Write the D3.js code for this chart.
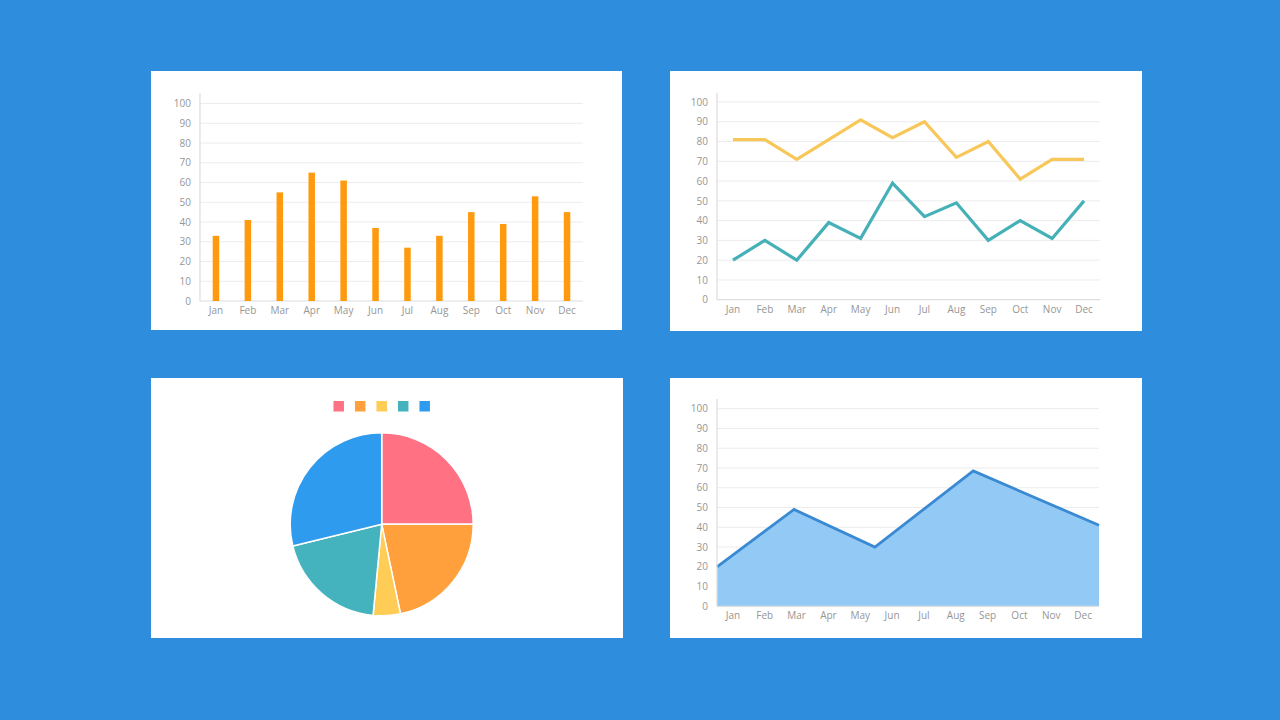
<!DOCTYPE html>
<html>
<head>
<meta charset="utf-8">
<script src="https://cdn.jsdelivr.net/npm/d3@7"></script>
<style>
html,body{margin:0;padding:0;background:#2E8EDD;}
svg{display:block;}
.tick text{font-family:"Open Sans","Noto Sans",sans-serif;font-size:10px;fill:#969696;}
</style>
</head>
<body>
<svg id="c" width="1280" height="720"></svg>
<script>
// ---- data ----
const months = ["Jan","Feb","Mar","Apr","May","Jun","Jul","Aug","Sep","Oct","Nov","Dec"];
const yTicks = [0,10,20,30,40,50,60,70,80,90,100];
const barValues = [33,41,55,65,61,37,27,33,45,39,53,45];
const lineYellow = [81,81,71,81,91,82,90,72,80,61,71,71];
const lineTeal = [20,30,20,39,31,59,42,49,30,40,31,50];
const pieValues = [25,21.7,4.8,19.7,28.8];
const pieColors = ["#FF7183","#FFA03C","#FFCC55","#45B3BE","#2F9BEE"];
const areaX = [0,2.42,4.96,8.05,12];   // position along the 12 month slots
const areaY = [20,49,30,68.5,41];

const svg = d3.select("#c");

// panels
const panels = [
  {x:151,y:71,w:471,h:259},
  {x:670,y:71,w:472,h:260},
  {x:151,y:378,w:472,h:260},
  {x:670,y:378,w:472,h:260}
];
svg.selectAll("rect.panel").data(panels).join("rect")
  .attr("class","panel")
  .attr("x",d=>d.x).attr("y",d=>d.y).attr("width",d=>d.w).attr("height",d=>d.h)
  .attr("fill","#fff");

function frame(g, x0, x1, y0, y100, axisTop){
  const x = d3.scaleBand().domain(months).range([x0,x1]);
  const y = d3.scaleLinear().domain([0,100]).range([y0,y100]);
  g.append("g").selectAll("line").data(yTicks.filter(v=>v>0)).join("line")
    .attr("x1",x0).attr("x2",x1).attr("y1",d=>y(d)).attr("y2",d=>y(d))
    .attr("stroke","#ececec").attr("stroke-width",1);
  const ya = g.append("g").attr("transform",`translate(${x0},0)`)
    .call(d3.axisLeft(y).tickValues(yTicks).tickSize(0).tickPadding(9));
  ya.select(".domain").remove();
  const xa = g.append("g").attr("transform",`translate(0,${y0})`)
    .call(d3.axisBottom(x).tickSize(0).tickPadding(6));
  xa.select(".domain").remove();
  g.append("line").attr("x1",x0).attr("x2",x0).attr("y1",axisTop).attr("y2",y0)
    .attr("stroke","#dddddd").attr("stroke-width",1.2);
  g.append("line").attr("x1",x0).attr("x2",x1).attr("y1",y0).attr("y2",y0)
    .attr("stroke","#dddddd").attr("stroke-width",1.2);
  return {x,y};
}

// ---- bar chart ----
{
  const g = svg.append("g");
  const gb = g.append("g");
  const {x,y} = frame(g,200,583,301,103.5,93);
  const bw = 6.5;
  gb.selectAll("rect").data(barValues).join("rect")
    .attr("x",(d,i)=>x(months[i])+x.bandwidth()/2-bw/2)
    .attr("width",bw)
    .attr("y",d=>y(d)).attr("height",d=>y(0)-y(d))
    .attr("fill","#FF9A0F");
  g.node().appendChild(gb.node());
}

// ---- line chart ----
{
  const g = svg.append("g");
  const {x,y} = frame(g,717,1100,299.7,102,92.7);
  const line = d3.line().x((d,i)=>x(months[i])+x.bandwidth()/2).y(d=>y(d));
  g.append("path").datum(lineYellow).attr("d",line)
    .attr("fill","none").attr("stroke","#F8C75A").attr("stroke-width",3.2).attr("stroke-linejoin","miter");
  g.append("path").datum(lineTeal).attr("d",line)
    .attr("fill","none").attr("stroke","#46B0B9").attr("stroke-width",3.2).attr("stroke-linejoin","miter");
}

// ---- pie chart ----
{
  const cx = 381.7, cy = 524.3, r = 91.5;
  const g = svg.append("g").attr("transform",`translate(${cx},${cy})`);
  const pie = d3.pie().sort(null).value(d=>d);
  const arc = d3.arc().innerRadius(0).outerRadius(r);
  g.selectAll("path").data(pie(pieValues)).join("path")
    .attr("d",arc).attr("fill",(d,i)=>pieColors[i])
    .attr("stroke","#fff").attr("stroke-width",1.5).attr("stroke-linejoin","round");
  const lx = d3.scalePoint().domain(d3.range(pieColors.length)).range([cx-43,cx+43]);
  const s = 10.5;
  svg.append("g").selectAll("rect").data(pieColors).join("rect")
    .attr("x",(d,i)=>lx(i)-s/2).attr("y",401).attr("width",s).attr("height",s)
    .attr("fill",d=>d);
}

// ---- area chart ----
{
  const g = svg.append("g");
  const ga = g.append("g");
  const {x,y} = frame(g,717,1099,606.3,408.7,399);
  const xl = d3.scaleLinear().domain([0,12]).range([717,1099]);
  const pts = areaX.map((v,i)=>[v,areaY[i]]);
  const area = d3.area().x(d=>xl(d[0])).y0(y(0)).y1(d=>y(d[1]));
  const line = d3.line().x(d=>xl(d[0])).y(d=>y(d[1]));
  ga.append("path").datum(pts).attr("d",area).attr("fill","#93C9F5");
  ga.append("path").datum(pts).attr("d",line).attr("fill","none")
    .attr("stroke","#3A8AD3").attr("stroke-width",2.8);
  g.node().insertBefore(ga.node(), g.node().children[2]);
}
</script>
</body>
</html>
